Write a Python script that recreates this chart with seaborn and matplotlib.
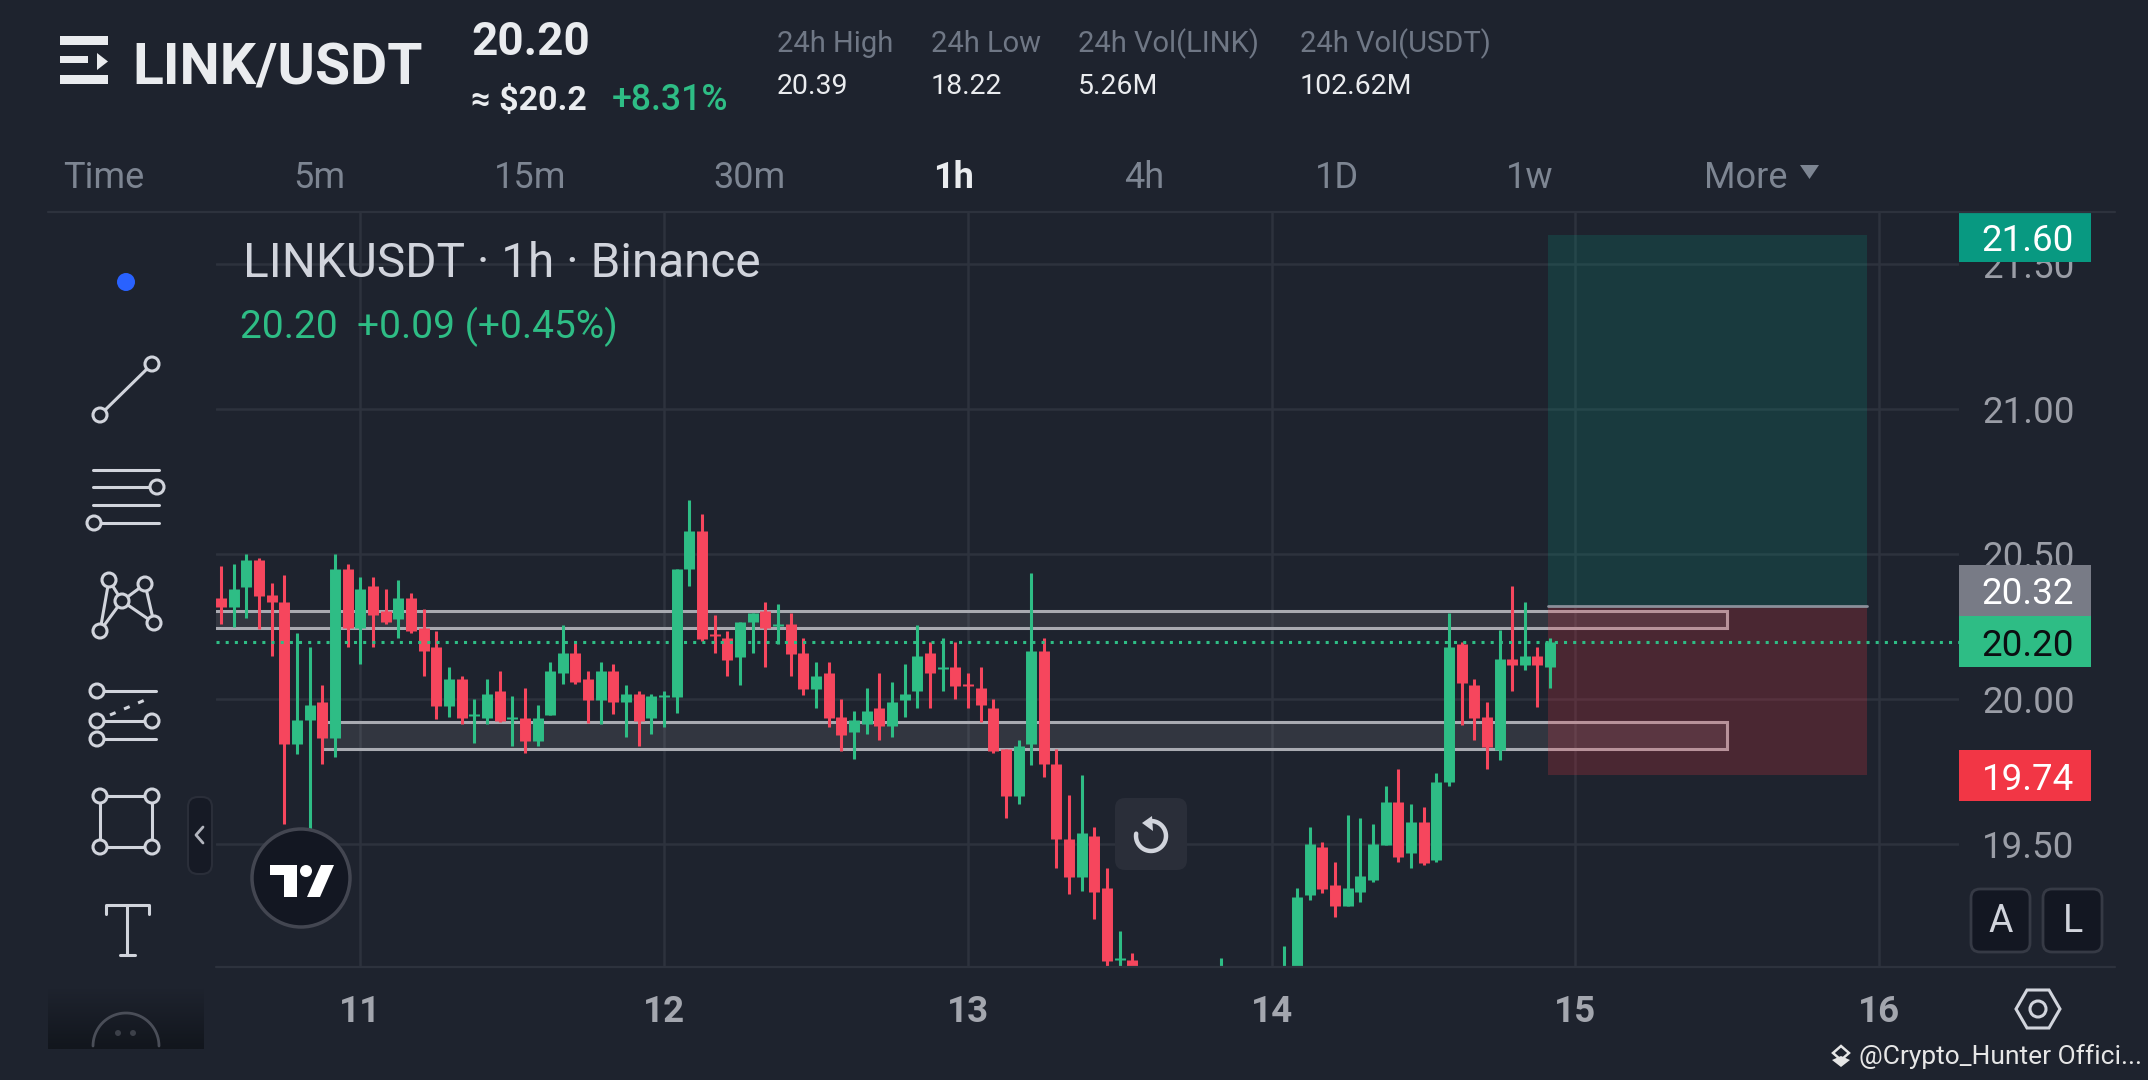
import numpy as np
import pandas as pd
import seaborn as sns
import matplotlib
matplotlib.use("Agg")
import matplotlib.pyplot as plt
from matplotlib.colors import LinearSegmentedColormap
from matplotlib.patches import Circle, Ellipse, FancyBboxPatch, Polygon, Rectangle

# hours counted from the start of day 11, candles below the visible window are left out
hours = [-11, -10, -9, -8, -7, -6, -5, -4, -3, -2, -1, 0, 1, 2, 3, 4, 5, 6, 7, 8, 9, 10, 11, 12, 13,
         14, 15, 16, 17, 18, 19, 20, 21, 22, 23, 24, 25, 26, 27, 28, 29, 30, 31, 32, 33, 34, 35, 36, 37,
         38, 39, 40, 41, 42, 43, 44, 45, 46, 47, 48, 49, 50, 51, 52, 53, 54, 55, 56, 57, 58, 59, 60, 61,
         68, 73, 74, 75, 76, 77, 78, 79, 80, 81, 82, 83, 84, 85, 86, 87, 88, 89, 90, 91, 92, 93, 94]
opens = [20.348, 20.319, 20.388, 20.480, 20.358, 20.337, 19.846, 19.927, 19.989, 19.867, 20.449, 20.244, 20.389,
         20.303, 20.276, 20.348, 20.244, 20.179, 19.977, 20.068, 19.943, 19.936, 20.027, 19.933, 19.936, 19.857,
         19.946, 20.089, 20.158, 20.068, 19.998, 20.099, 19.989, 20.017, 19.936, 20.006, 20.008, 20.448, 20.579,
         20.224, 20.210, 20.146, 20.265, 20.303, 20.253, 20.258, 20.158, 20.036, 20.089, 19.937, 19.888, 19.915,
         19.968, 19.908, 19.998, 20.027, 20.158, 20.105, 20.110, 20.051, 20.037, 19.968, 19.827, 19.667, 19.844,
         20.168, 19.777, 19.516, 19.387, 19.527, 19.347, 19.101, 19.099,
         19.030, 18.950, 18.950, 19.324, 19.489, 19.358, 19.287, 19.336, 19.376, 19.497, 19.647, 19.468, 19.578,
         19.444, 19.715, 20.189, 20.048, 19.937, 19.826, 20.137, 20.118, 20.148, 20.110]
closes = [20.319, 20.379, 20.480, 20.357, 20.335, 19.846, 19.927, 19.979, 19.867, 20.449, 20.244, 20.379, 20.289,
          20.265, 20.348, 20.234, 20.166, 19.977, 20.068, 19.936, 19.950, 20.017, 19.926, 19.939, 19.857, 19.936,
          20.099, 20.158, 20.058, 19.998, 20.099, 19.989, 20.017, 19.926, 20.010, 20.013, 20.449, 20.579, 20.206,
          20.217, 20.135, 20.268, 20.299, 20.244, 20.261, 20.157, 20.036, 20.079, 19.934, 19.877, 19.927, 19.958,
          19.908, 19.989, 20.017, 20.148, 20.089, 20.112, 20.046, 20.044, 19.979, 19.822, 19.667, 19.837, 20.168,
          19.777, 19.516, 19.387, 19.537, 19.336, 19.098, 19.108, 19.040,
          19.060, 19.060, 19.316, 19.499, 19.346, 19.286, 19.347, 19.389, 19.499, 19.647, 19.456, 19.578, 19.436,
          19.716, 20.179, 20.057, 19.936, 19.836, 20.137, 20.119, 20.148, 20.119, 20.198]
highs = [20.459, 20.468, 20.501, 20.488, 20.402, 20.427, 20.227, 20.179, 20.049, 20.501, 20.468, 20.420, 20.420,
         20.379, 20.410, 20.368, 20.310, 20.237, 20.110, 20.079, 19.999, 20.068, 20.099, 20.010, 20.037, 19.979,
         20.127, 20.257, 20.199, 20.099, 20.127, 20.120, 20.048, 20.027, 20.017, 20.027, 20.449, 20.689, 20.639,
         20.289, 20.237, 20.268, 20.299, 20.337, 20.327, 20.299, 20.210, 20.127, 20.127, 19.999, 19.958, 20.037,
         20.089, 20.060, 20.120, 20.257, 20.199, 20.210, 20.199, 20.089, 20.110, 19.999, 19.827, 19.858, 20.437,
         20.210, 19.827, 19.668, 19.737, 19.558, 19.416, 19.199, 19.126,
         19.106, 19.148, 19.347, 19.558, 19.509, 19.437, 19.599, 19.589, 19.568, 19.699, 19.758, 19.637, 19.627,
         19.747, 20.298, 20.198, 20.068, 19.989, 20.238, 20.390, 20.337, 20.179, 20.210]
lows = [20.259, 20.248, 20.281, 20.242, 20.150, 19.571, 19.812, 19.537, 19.778, 19.801, 20.181, 20.123, 20.181,
        20.260, 20.212, 20.229, 20.081, 19.930, 19.939, 19.913, 19.850, 19.913, 19.921, 19.839, 19.813, 19.839,
        19.946, 20.051, 20.051, 19.919, 19.913, 19.948, 19.870, 19.839, 19.880, 19.903, 19.951, 20.391, 20.202,
        20.160, 20.081, 20.050, 20.160, 20.110, 20.192, 20.081, 20.013, 19.968, 19.903, 19.820, 19.792, 19.880,
        19.859, 19.870, 19.939, 19.971, 19.971, 20.029, 20.002, 19.971, 19.920, 19.813, 19.591, 19.640, 19.772,
        19.730, 19.419, 19.329, 19.339, 19.240, 19.077, 19.050, 19.000,
        19.000, 18.900, 18.900, 19.307, 19.330, 19.249, 19.287, 19.300, 19.369, 19.497, 19.439, 19.419, 19.429,
        19.440, 19.700, 19.912, 19.859, 19.760, 19.790, 20.029, 20.102, 19.972, 20.040]

zone_upper = [20.244, 20.303]
zone_lower = [19.827, 19.923]
zone_upper_hours = [-12, 108]
zone_lower_hours = [-3, 108]
position_hours = [93.8, 119]
position_prices = [19.74, 20.32, 21.60]
last_price = 20.198

day_hours = [0, 24, 48, 72, 96, 120]
day_labels = ["11", "12", "13", "14", "15", "16"]
price_ticks = [19.5, 20.0, 20.5, 21.0, 21.5]
price_labels = ["19.50", "20.00", "20.50", "21.00", "21.50"]
tag_texts = ["21.60", "20.32", "20.20", "19.74"]
tag_prices = [21.596, 20.376, 20.199, 19.736]
tag_colors = ["#089981", "#787b86", "#2ebd85", "#f23645"]
tag_text_colors = ["white", "white", "#0b0e11", "white"]

tabs = ["Time", "5m", "15m", "30m", "1h", "4h", "1D", "1w", "More"]
tab_x = [63, 293, 494, 713, 933, 1124, 1315, 1506, 1704]
stat_names = ["24h High", "24h Low", "24h Vol(LINK)", "24h Vol(USDT)"]
stat_values = ["20.39", "18.22", "5.26M", "102.62M"]
stat_x = [777, 931, 1078, 1300]

BG = "#1e232e"
GREEN = "#2ebd85"
RED = "#f6465d"
GRID = "#2d323d"
ICON = "#d1d4dc"
MUTED = "#7d8592"

sns.set_theme(style="dark", rc={"axes.facecolor": BG, "figure.facecolor": BG})
plt.rcParams["font.family"] = ["Roboto", "Noto Sans", "DejaVu Sans"]

fig = plt.figure(figsize=(21.48, 10.80), dpi=100)
ax = fig.add_axes([216 / 2148, 1 - 967 / 1080, (1959 - 216) / 2148, (967 - 212) / 1080])

df = pd.DataFrame({"hour": hours, "open": opens, "high": highs, "low": lows, "close": closes})
df["side"] = np.where(df["close"] >= df["open"], "up", "down")
wicks = df.melt(id_vars=["hour", "side"], value_vars=["low", "high"], value_name="price")
bodies = df.melt(id_vars=["hour", "side"], value_vars=["open", "close"], value_name="price")
palette = {"up": GREEN, "down": RED}

# zones and the long position sit under the candles
for (low, high), (x0, x1) in zip([zone_upper, zone_lower], [zone_upper_hours, zone_lower_hours]):
    ax.add_patch(Rectangle((x0, low), x1 - x0, high - low, facecolor=(1, 1, 1, 0.09),
                           edgecolor="#a9abb2", linewidth=2.2, zorder=1.5))
ax.add_patch(Rectangle((position_hours[0], position_prices[1]), position_hours[1] - position_hours[0],
                       position_prices[2] - position_prices[1], facecolor="#089981", alpha=0.2, lw=0, zorder=2))
ax.add_patch(Rectangle((position_hours[0], position_prices[0]), position_hours[1] - position_hours[0],
                       position_prices[1] - position_prices[0], facecolor="#f23645", alpha=0.21, lw=0, zorder=2))
ax.plot(position_hours, [position_prices[1]] * 2, color="#8a8f9a", lw=2, zorder=2.2)

sns.lineplot(data=wicks, x="hour", y="price", units="hour", hue="side", palette=palette, estimator=None,
             linewidth=2.2, solid_capstyle="butt", legend=False, sort=False, zorder=3, ax=ax)
sns.lineplot(data=bodies, x="hour", y="price", units="hour", hue="side", palette=palette, estimator=None,
             linewidth=7.9, solid_capstyle="butt", legend=False, sort=False, zorder=3.1, ax=ax)
ax.axhline(last_price, color=GREEN, lw=2.2, ls=(0, (1, 2)), zorder=4)

ax.set_xlim(-11.4, 126.3)
ax.set_ylim(19.076, 21.681)
ax.set_xlabel("")
ax.set_ylabel("")
ax.set_xticks(day_hours, day_labels)
ax.set_yticks(price_ticks, price_labels)
ax.yaxis.tick_right()
ax.tick_params(axis="x", length=0, pad=19.5, labelsize=26.5, labelcolor="#a3a6ae")
ax.tick_params(axis="y", length=0, pad=16.5, labelsize=26.5, labelcolor="#9a9da6")
for lab in ax.get_xticklabels():
    lab.set_fontweight("bold")
ax.grid(True, color=GRID, lw=1.8)
ax.set_axisbelow(True)
for spine in ax.spines.values():
    spine.set_visible(False)

# price tags on the scale
for text, price, color, tcolor in zip(tag_texts, tag_prices, tag_colors, tag_text_colors):
    ax.add_patch(Rectangle((1.0, price - 0.088), 132 / 1743, 0.176, transform=ax.get_yaxis_transform(),
                           facecolor=color, lw=0, clip_on=False, zorder=6))
    ax.text(1 + 69 / 1743, price, text, transform=ax.get_yaxis_transform(), color=tcolor, fontsize=26.5,
            ha="center", va="center_baseline", zorder=7, clip_on=False)

# everything else of the screen in pixel coordinates
ov = fig.add_axes([0, 0, 1, 1], zorder=5)
ov.axis("off")

ov.plot([48, 2115], [212, 212], color=GRID, lw=1.6)
ov.plot([216, 2115], [967, 967], color=GRID, lw=1.6)

# header
for x0, x1, y0, y1 in [(60, 108, 36, 45), (60, 88, 56, 63), (60, 108, 75, 84)]:
    ov.add_patch(Rectangle((x0, y0), x1 - x0, y1 - y0, facecolor="#eaecef", lw=0))
ov.add_patch(Polygon([(97, 53), (97, 70), (108, 61.5)], facecolor="#eaecef", lw=0))
ov.text(132, 84, "LINK/USDT", color="#eaecef", fontsize=41, fontweight="bold", va="baseline")
ov.text(471, 55, "20.20", color="#eaecef", fontsize=33, fontweight="bold", va="baseline")
ov.text(471, 110, "≈ $20.2", color="#eaecef", fontsize=24.5, fontweight="bold", va="baseline")
ov.text(612, 110, "+8.31%", color=GREEN, fontsize=25.7, fontweight="medium", va="baseline")
for name, value, x in zip(stat_names, stat_values, stat_x):
    ov.text(x, 52, name, color="#6f7785", fontsize=21, va="baseline")
    ov.text(x, 94, value, color="#eaecef", fontsize=20.5, va="baseline")
for name, x in zip(tabs, tab_x):
    active = name == "1h"
    ov.text(x, 188, name, color="#eaecef" if active else MUTED, fontsize=26,
            fontweight="bold" if active else "normal", va="baseline")
ov.add_patch(Polygon([(1800, 165), (1819, 165), (1809.5, 179)], facecolor=MUTED, lw=0))

# legend text of the chart
ov.text(243, 277, "LINKUSDT · 1h · Binance", color=ICON, fontsize=34.4, va="baseline")
ov.text(240, 338, "20.20  +0.09 (+0.45%)", color=GREEN, fontsize=28, va="baseline")


def node(x, y, r=7):
    ov.add_patch(Circle((x, y), r, facecolor=BG, edgecolor=ICON, lw=2.2, zorder=3))


def seg(x0, y0, x1, y1, **kw):
    ov.plot([x0, x1], [y0, y1], color=ICON, lw=kw.pop("lw", 2.2), zorder=2, **kw)


# drawing toolbar
ov.add_patch(Circle((126, 282), 9, facecolor="#2962ff", lw=0))
seg(100, 415, 152, 364)
node(100, 415)
node(152, 364)
for y, x0, x1 in [(470, 93, 159), (487, 93, 150), (505, 93, 159), (523, 101, 159)]:
    seg(x0, y, x1, y)
node(157, 487)
node(94, 523)
pts = {"a": (109, 580), "b": (145, 584), "c": (122, 601), "d": (100, 631), "e": (154, 623)}
for p, q in ["ac", "ad", "cd", "cb", "be", "ce"]:
    seg(*pts[p], *pts[q])
for p in pts.values():
    node(*p)
seg(97, 691, 156, 691)
seg(110, 715, 152, 697, linestyle=(0, (2, 3)))
seg(97, 721, 152, 721)
seg(97, 739, 156, 739)
for x, y in [(97, 691), (97, 721), (152, 721), (97, 739)]:
    node(x, y)
for x0, y0, x1, y1 in [(100, 796, 152, 796), (152, 796, 152, 847), (152, 847, 100, 847), (100, 847, 100, 796)]:
    seg(x0, y0, x1, y1)
for x, y in [(100, 796), (152, 796), (100, 847), (152, 847)]:
    node(x, y)
ov.plot([106, 106, 149, 149], [914, 905, 905, 914], color=ICON, lw=2.2)
seg(127, 905, 127, 955)
seg(120, 955, 135, 955)

# fade at the bottom of the toolbar
fade = LinearSegmentedColormap.from_list("fade", [BG, "#12161d"])
ov.imshow(np.linspace(0, 1, 30)[:, None], extent=[48, 204, 1049, 988], cmap=fade, aspect="auto", zorder=1)
theta = np.linspace(np.pi, 2 * np.pi, 40)
ov.plot(126 + 33 * np.cos(theta), 1046 + 33 * np.sin(theta), color="#4a4e58", lw=2, zorder=2)
ov.add_patch(Circle((118, 1033), 3, facecolor="#3c4049", lw=0, zorder=2))
ov.add_patch(Circle((133, 1033), 3, facecolor="#3c4049", lw=0, zorder=2))

# collapse handle
ov.add_patch(FancyBboxPatch((190, 799), 20, 73, boxstyle="round,pad=2,rounding_size=10", facecolor="#161a25",
                            edgecolor="#2a2e39", lw=1.5))
ov.plot([203, 196, 203], [827, 835, 843], color="#b2b5be", lw=2)

# TradingView badge
ov.add_patch(Circle((301, 878), 49, facecolor="#131722", edgecolor="#434651", lw=2.5))
ov.add_patch(Polygon([(270, 865), (297, 865), (297, 897), (284, 897), (284, 875), (270, 875)], facecolor="white", lw=0))
ov.add_patch(Circle((306, 871), 6, facecolor="white", lw=0))
ov.add_patch(Polygon([(321, 865), (334, 865), (320, 897), (307, 897)], facecolor="white", lw=0))

# reset button
ov.add_patch(FancyBboxPatch((1121, 804), 60, 60, boxstyle="round,pad=6,rounding_size=10", facecolor="#2a2e39", lw=0))
theta = np.linspace(-np.pi / 2, np.pi * 1.05, 50)
ov.plot(1151 + 15 * np.cos(theta), 836 + 15 * np.sin(theta), color=ICON, lw=3.2)
ov.add_patch(Polygon([(1142, 823), (1152, 816), (1153, 831)], facecolor=ICON, lw=0))

# A / L buttons
for x, label in [(1971, "A"), (2043, "L")]:
    ov.add_patch(FancyBboxPatch((x + 6, 895), 47, 51, boxstyle="round,pad=6,rounding_size=9", facecolor="#131722",
                                edgecolor="#363a45", lw=2))
    ov.text(x + 29.5, 921, label, color=ICON, fontsize=27, ha="center", va="center")

# settings hexagon
ov.add_patch(Polygon([(2016, 1009), (2027, 990), (2049, 990), (2060, 1009), (2049, 1028), (2027, 1028)],
                     facecolor="none", edgecolor=ICON, lw=2.2))
ov.add_patch(Ellipse((2038, 1009), 16, 16, facecolor="none", edgecolor=ICON, lw=2.2))

# watermark
ov.add_patch(Polygon([(1841, 1046), (1849, 1053), (1841, 1060), (1833, 1053)], facecolor="none", edgecolor="#e6e6e6", lw=1.8))
ov.add_patch(Polygon([(1841, 1056), (1850, 1060), (1841, 1067), (1832, 1060)], facecolor="#e6e6e6", lw=0))
ov.text(1859, 1064, "@Crypto_Hunter Offici...", color="#e6e6e6", fontsize=19, va="baseline")

ov.set_xlim(0, 2148)
ov.set_ylim(1080, 0)

fig.savefig("out.png", dpi=100, facecolor=BG)
